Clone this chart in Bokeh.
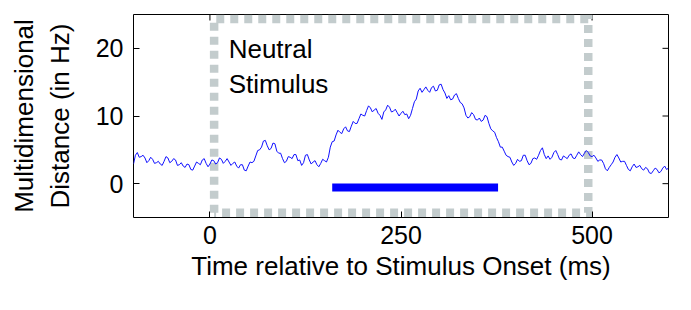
import numpy as np
from bokeh.plotting import figure
from bokeh.models import Range1d, FixedTicker, Label
from bokeh.embed import file_html
from bokeh.resources import INLINE

# ---- data ----
time_ms = np.arange(-100, 600.01, 2.5)
distance_hz = [
    2.9, 4.2, 4.6, 3.9, 4.0, 4.2, 3.8, 3.1, 3.4, 3.9,
    3.6, 3.0, 3.1, 3.3, 2.9, 2.7, 3.3, 4.0, 3.8, 3.1,
    3.3, 3.7, 3.5, 2.7, 2.8, 3.1, 2.6, 2.4, 2.9, 2.8,
    2.1, 2.0, 2.6, 3.2, 3.0, 2.8, 3.5, 3.7, 3.0, 2.5,
    2.9, 3.5, 3.4, 2.9, 3.1, 3.8, 3.6, 3.0, 3.3, 3.7,
    3.2, 2.7, 3.0, 3.2, 2.6, 2.3, 2.8, 2.8, 2.0, 1.9,
    2.6, 3.2, 3.1, 3.3, 4.1, 4.9, 5.0, 5.4, 6.3, 6.4,
    5.6, 5.0, 5.2, 6.0, 5.9, 4.8, 4.5, 4.5, 3.7, 3.1,
    3.3, 4.0, 3.9, 3.7, 4.3, 4.3, 3.4, 3.5, 2.7, 3.1,
    4.2, 4.3, 3.5, 2.9, 3.2, 3.4, 2.8, 2.5, 3.0, 3.6,
    3.4, 3.2, 3.9, 5.4, 6.2, 6.3, 7.2, 7.9, 7.6, 7.4,
    8.1, 8.4, 7.8, 7.7, 8.5, 9.2, 8.9, 8.9, 9.6, 10.3,
    10.1, 10.0, 10.8, 11.5, 11.2, 10.6, 10.9, 11.1, 10.4, 10.1,
    9.5, 10.6, 10.9, 11.6, 11.3, 10.6, 10.7, 11.0, 10.5, 10.0,
    10.4, 10.7, 10.2, 10.3, 9.6, 10.1, 11.1, 12.1, 12.5, 13.7,
    14.1, 13.5, 13.9, 14.3, 13.8, 13.5, 14.2, 14.4, 13.7, 13.8,
    14.6, 14.7, 13.9, 13.4, 12.6, 13.0, 12.4, 12.5, 13.1, 13.3,
    12.6, 12.0, 11.8, 11.2, 10.1, 9.7, 9.9, 10.5, 10.2, 9.5,
    9.4, 9.7, 9.2, 9.4, 10.1, 9.9, 8.9, 8.1, 7.8, 7.6,
    6.8, 6.2, 5.4, 5.4, 4.8, 4.2, 4.0, 3.9, 3.2, 2.7,
    3.0, 3.6, 3.3, 3.4, 4.2, 4.2, 3.4, 2.8, 3.0, 3.7,
    3.8, 3.6, 4.2, 4.9, 5.3, 4.3, 3.7, 4.1, 3.6, 3.9,
    4.6, 4.9, 4.3, 3.6, 3.5, 4.1, 3.9, 3.7, 4.2, 4.4,
    3.8, 3.7, 4.2, 4.7, 4.3, 4.0, 4.5, 4.9, 4.6, 4.1,
    4.0, 4.2, 3.8, 3.3, 3.5, 3.5, 3.0, 2.2, 1.9, 2.4,
    2.8, 3.2, 3.9, 4.3, 3.8, 3.2, 3.3, 3.3, 2.7, 2.1,
    1.9, 2.5, 2.9, 2.4, 2.5, 2.7, 2.2, 2.0, 2.4, 2.2,
    1.6, 1.5, 1.9, 2.3, 2.1, 1.6, 1.8, 2.3, 2.6, 2.1,
    2.3,
]
x_ticks = [0, 250, 500]
y_ticks = [0, 10, 20]
window_x = [5.5, 5.5, 495.0, 495.0, 5.5]
window_y = [-4.3, 24.35, 24.35, -4.3, -4.3]
sig_x = [160, 377]
sig_y = [-0.55, -0.55]
label_lines = ["Neutral", "Stimulus"]
label_x = 24.5
label_y = [19.9, 14.8]

FONT = "Liberation Sans"
X_LO, X_HI, Y_LO, Y_HI = -100, 600, -5, 25

p = figure(width=691, height=310, output_backend="svg", toolbar_location=None,
           x_range=Range1d(X_LO, X_HI), y_range=Range1d(Y_LO, Y_HI),
           min_border_left=133, min_border_right=23, min_border_top=14,
           min_border_bottom=93, background_fill_color="white",
           border_fill_color="white")
p.grid.visible = False
p.outline_line_color = "black"
p.outline_line_width = 1

for ax, ticks in ((p.xaxis[0], x_ticks), (p.yaxis[0], y_ticks)):
    ax.ticker = FixedTicker(ticks=ticks)
    ax.axis_line_color = None
    ax.major_tick_in = 6
    ax.major_tick_out = 0
    ax.minor_tick_line_color = None
    ax.major_label_text_font = FONT
    ax.major_label_text_font_size = "25px"
    ax.major_label_text_color = "black"
    ax.axis_label_text_font = FONT
    ax.axis_label_text_font_size = "26px"
    ax.axis_label_text_font_style = "normal"
    ax.axis_label_text_color = "black"

p.xaxis.axis_label = "Time relative to Stimulus Onset (ms)"
p.xaxis.major_label_standoff = 8
p.xaxis.axis_label_standoff = 4
p.yaxis.axis_label = "Multidimensional\nDistance (in Hz)"
p.yaxis.major_label_standoff = 10
p.yaxis.axis_label_standoff = 18

# mirrored inward ticks on the top and right edges (clipped to the frame)
p.scatter(x_ticks, [Y_HI] * len(x_ticks), marker="dash", angle=np.pi / 2, size=12,
          line_color="black", line_width=1)
p.scatter([X_HI] * len(y_ticks), y_ticks, marker="dash", size=12,
          line_color="black", line_width=1)

p.line(window_x, window_y, line_color="#c3cccd", line_width=8.5, line_dash="8 6",
       line_join="miter")
p.line(time_ms, distance_hz, line_color="#1010ff", line_width=1)
p.line(sig_x, sig_y, line_color="#0000ff", line_width=8, line_cap="butt")

for txt, yy in zip(label_lines, label_y):
    p.add_layout(Label(x=label_x, y=yy, text=txt, text_font=FONT,
                       text_font_size="26px", text_color="black",
                       text_baseline="alphabetic"))

open("out.html", "w").write(file_html(p, INLINE))
